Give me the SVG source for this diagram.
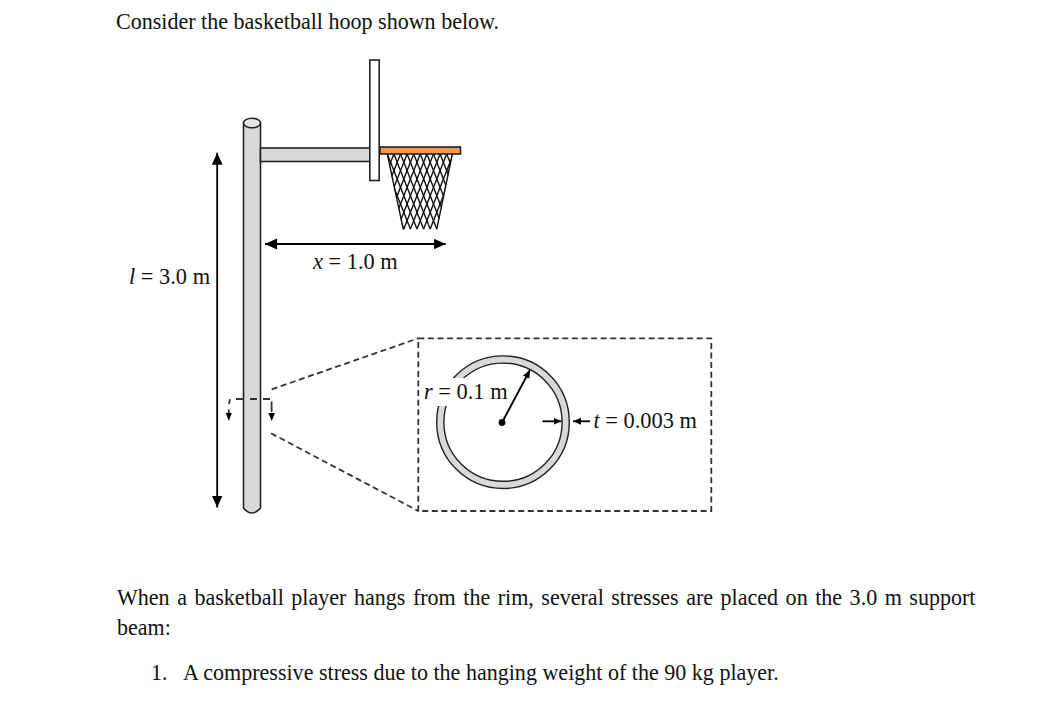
<svg xmlns="http://www.w3.org/2000/svg" width="1047" height="701" viewBox="0 0 1047 701">
<style>
text{font-family:"Liberation Serif","Times New Roman",serif;font-size:22.05px;fill:#111}
#labels text{font-size:22.4px}
.i{font-style:italic}
.s{stroke:#222;stroke-width:1.6}
.g{fill:#d9d9d9}
.d{fill:none;stroke:#333;stroke-width:1.8;stroke-dasharray:6 3.6}
.c{fill:none;stroke:#333;stroke-width:1.8}
.a{fill:none;stroke:#000;stroke-width:1.8}
</style>
<defs>
<marker id="big" markerUnits="userSpaceOnUse" markerWidth="13" markerHeight="12" refX="12" refY="6" orient="auto-start-reverse"><path d="M0 .6L12 6L0 11.4z" fill="#000"/></marker>
<marker id="small" markerUnits="userSpaceOnUse" markerWidth="9" markerHeight="9" refX="8" refY="4" orient="auto"><path d="M0 .5L8 4L0 7.5z" fill="#000"/></marker>
<clipPath id="netclip"><path d="M386.8 154H452.8L437 229.6H403z"/></clipPath>
</defs>
<rect width="1047" height="701" fill="#fff"/>
<text x="116" y="28.6">Consider the basketball hoop shown below.</text>

<g id="pole">
<path class="s g" d="M243.5 123V508Q252 518 260.5 508V123z"/>
<ellipse class="s" cx="252" cy="123" rx="8.5" ry="4.8" fill="#e6e6e6"/>
</g>
<g id="arm"><rect class="s g" x="260.5" y="148" width="109.5" height="13.5"/></g>
<g id="backboard"><rect class="s" x="369.8" y="60" width="9.4" height="120.5" fill="#fff"/></g>
<g id="net">
<g clip-path="url(#netclip)" fill="none" stroke="#111" stroke-width="1.4">
<path d="M347.7 154l29.8 75.3M354.3 154l29.8 75.3M360.9 154l29.8 75.3M367.5 154l29.8 75.3M374.1 154l29.8 75.3M380.7 154l29.8 75.3M387.3 154l29.8 75.3M393.9 154l29.8 75.3M400.5 154l29.8 75.3M407.1 154l29.8 75.3M413.7 154l29.8 75.3M420.3 154l29.8 75.3M426.9 154l29.8 75.3M433.5 154l29.8 75.3M440.1 154l29.8 75.3M446.7 154l29.8 75.3"/>
<path d="M393.9 154l-29.8 75.3M400.5 154l-29.8 75.3M407.1 154l-29.8 75.3M413.7 154l-29.8 75.3M420.3 154l-29.8 75.3M426.9 154l-29.8 75.3M433.5 154l-29.8 75.3M440.1 154l-29.8 75.3M446.7 154l-29.8 75.3M453.3 154l-29.8 75.3M459.9 154l-29.8 75.3M466.5 154l-29.8 75.3M473.1 154l-29.8 75.3M479.7 154l-29.8 75.3M486.3 154l-29.8 75.3M492.9 154l-29.8 75.3"/>
</g>
<path fill="none" stroke="#111" stroke-width="1.4" d="M387.3 154L403.3 229.3M452.3 154L436.7 229.3"/>
</g>
<g id="rim"><rect class="s" x="380" y="147" width="80.5" height="7" fill="#f79646"/></g>

<g id="section">
<rect class="d" x="418.3" y="338.3" width="293" height="172.7"/>
<circle cx="503" cy="422.2" r="62.7" fill="none" stroke="#222" stroke-width="8.6"/>
<circle cx="503" cy="422.2" r="62.7" fill="none" stroke="#d9d9d9" stroke-width="5.8"/>
<rect x="424" y="378" width="90" height="28" fill="#fff"/>
<circle cx="502" cy="422.5" r="3.4" fill="#000"/>
</g>

<g id="connectors">
<path class="a" d="M217.2 152.7V507.5" marker-start="url(#big)" marker-end="url(#big)"/>
<path class="a" d="M265 244H445.7" marker-start="url(#big)" marker-end="url(#big)"/>
<path class="c" d="M230 399.2L229 404M228.8 409.5V414M236 399H243.5M250 399H257M263 399H270M271.6 401.5V412"/>
<path d="M225.8 413h6l-3 8zM268.4 413h6.6l-3.3 8z" fill="#000"/>
<path class="d" d="M271.7 389.3L418.3 338.3M271 433.3L418.3 511"/>
<path class="a" d="M502 422.5L530 370" marker-end="url(#small)"/>
<path class="a" d="M542.5 421.3H561.5" marker-end="url(#small)"/>
<path class="a" d="M590 421.3H573" marker-end="url(#small)"/>
</g>

<g id="labels">
<text x="313" y="268.6"><tspan class="i">x</tspan> = 1.0 m</text>
<text x="129" y="283.6"><tspan class="i">l</tspan> = 3.0 m</text>
<text x="424" y="399"><tspan class="i">r</tspan> = 0.1 m</text>
<text x="593.5" y="428"><tspan class="i">t</tspan> = 0.003 m</text>
</g>

<text x="117" y="604.6" word-spacing="2">When a basketball player hangs from the rim, several stresses are placed on the 3.0 m support</text>
<text x="117" y="634.6">beam:</text>
<text x="151" y="680">1.</text>
<text x="183" y="680">A compressive stress due to the hanging weight of the 90 kg player.</text>
</svg>
